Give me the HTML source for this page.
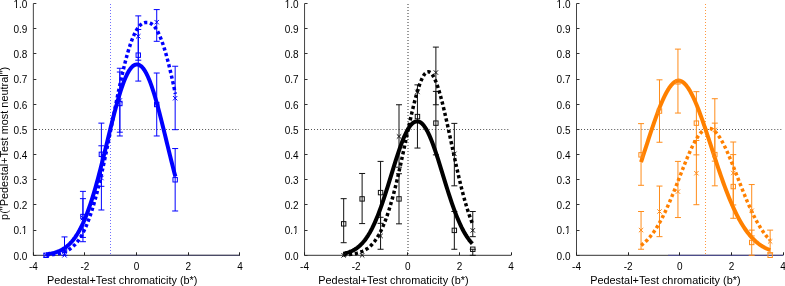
<!DOCTYPE html>
<html><head><meta charset="utf-8"><style>
html,body{margin:0;padding:0;background:#fff;}
body{width:785px;height:286px;position:relative;overflow:hidden;}
</style></head><body>
<svg width="785" height="286" viewBox="0 0 785 286" style="position:absolute;left:0;top:0;font-family:'Liberation Sans', Arial, Helvetica, sans-serif">
<g><line x1="110.50" y1="4" x2="110.50" y2="255.30" stroke="#7070ff" stroke-width="1" stroke-dasharray="1 2"/>
<line x1="36" y1="129.5" x2="238.91" y2="129.5" stroke="#505050" stroke-width="1" stroke-dasharray="1 2.02"/>
<path d="M33.35,3.55 V255.3" fill="none" stroke="#444" stroke-width="1"/>
<path d="M33.35,255.3 H239.91" fill="none" stroke="#333" stroke-width="1"/>
<path d="M90.00,255.3 H239.91" fill="none" stroke="#46466a" stroke-width="1"/>
<line x1="33.35" y1="255.50" x2="36.35" y2="255.50" stroke="#333" stroke-width="1"/>
<text x="27.35" y="259.60" font-size="10" text-anchor="end" fill="#000">0.0</text>
<line x1="33.35" y1="230.50" x2="36.35" y2="230.50" stroke="#333" stroke-width="1"/>
<text x="27.35" y="234.43" font-size="10" text-anchor="end" fill="#000">0.1</text>
<line x1="33.35" y1="204.50" x2="36.35" y2="204.50" stroke="#333" stroke-width="1"/>
<text x="27.35" y="209.25" font-size="10" text-anchor="end" fill="#000">0.2</text>
<line x1="33.35" y1="179.50" x2="36.35" y2="179.50" stroke="#333" stroke-width="1"/>
<text x="27.35" y="184.08" font-size="10" text-anchor="end" fill="#000">0.3</text>
<line x1="33.35" y1="154.50" x2="36.35" y2="154.50" stroke="#333" stroke-width="1"/>
<text x="27.35" y="158.90" font-size="10" text-anchor="end" fill="#000">0.4</text>
<line x1="33.35" y1="129.50" x2="36.35" y2="129.50" stroke="#333" stroke-width="1"/>
<text x="27.35" y="133.73" font-size="10" text-anchor="end" fill="#000">0.5</text>
<line x1="33.35" y1="104.50" x2="36.35" y2="104.50" stroke="#333" stroke-width="1"/>
<text x="27.35" y="108.55" font-size="10" text-anchor="end" fill="#000">0.6</text>
<line x1="33.35" y1="79.50" x2="36.35" y2="79.50" stroke="#333" stroke-width="1"/>
<text x="27.35" y="83.38" font-size="10" text-anchor="end" fill="#000">0.7</text>
<line x1="33.35" y1="53.50" x2="36.35" y2="53.50" stroke="#333" stroke-width="1"/>
<text x="27.35" y="58.20" font-size="10" text-anchor="end" fill="#000">0.8</text>
<line x1="33.35" y1="28.50" x2="36.35" y2="28.50" stroke="#333" stroke-width="1"/>
<text x="27.35" y="33.02" font-size="10" text-anchor="end" fill="#000">0.9</text>
<line x1="33.35" y1="3.50" x2="36.35" y2="3.50" stroke="#333" stroke-width="1"/>
<text x="27.35" y="7.85" font-size="10" text-anchor="end" fill="#000">1.0</text>
<line x1="33.50" y1="255.3" x2="33.50" y2="252.3" stroke="#222" stroke-width="1"/>
<text x="33.35" y="269.50" font-size="10" text-anchor="middle" fill="#000">-4</text>
<line x1="84.50" y1="255.3" x2="84.50" y2="252.3" stroke="#222" stroke-width="1"/>
<text x="84.99" y="269.50" font-size="10" text-anchor="middle" fill="#000">-2</text>
<line x1="136.50" y1="255.3" x2="136.50" y2="252.3" stroke="#222" stroke-width="1"/>
<text x="136.63" y="269.50" font-size="10" text-anchor="middle" fill="#000">0</text>
<line x1="188.50" y1="255.3" x2="188.50" y2="252.3" stroke="#222" stroke-width="1"/>
<text x="188.27" y="269.50" font-size="10" text-anchor="middle" fill="#000">2</text>
<line x1="239.50" y1="255.3" x2="239.50" y2="252.3" stroke="#222" stroke-width="1"/>
<text x="239.91" y="269.50" font-size="10" text-anchor="middle" fill="#000">4</text>
<text x="47.05" y="283.9" font-size="10.9" fill="#000">Pedestal+Test chromaticity (b*)</text>
<text transform="translate(7.8,219.9) rotate(-90)" x="0" y="0" font-size="10.93" fill="#000">p("Pedestal+Test most neutral")</text>
<path d="M64.50,236.92 V255.30 M61.50,236.92 H67.50 M61.50,255.30 H67.50" stroke="#0000ff" stroke-width="1" fill="none"/>
<path d="M82.95,191.36 V241.71 M79.95,191.36 H85.95 M79.95,241.71 H85.95" stroke="#0000ff" stroke-width="1" fill="none"/>
<path d="M82.95,198.66 V237.43 M79.95,198.66 H85.95 M79.95,237.43 H85.95" stroke="#0000ff" stroke-width="1" fill="none"/>
<path d="M101.39,123.13 V186.32 M98.39,123.13 H104.39 M98.39,186.32 H104.39" stroke="#0000ff" stroke-width="1" fill="none"/>
<path d="M101.39,145.79 V209.99 M98.39,145.79 H104.39 M98.39,209.99 H104.39" stroke="#0000ff" stroke-width="1" fill="none"/>
<path d="M119.83,72.03 V135.97 M116.83,72.03 H122.83 M116.83,135.97 H122.83" stroke="#0000ff" stroke-width="1" fill="none"/>
<path d="M119.83,68.25 V132.19 M116.83,68.25 H122.83 M116.83,132.19 H122.83" stroke="#0000ff" stroke-width="1" fill="none"/>
<path d="M138.27,29.48 V81.09 M135.27,29.48 H141.27 M135.27,81.09 H141.27" stroke="#0000ff" stroke-width="1" fill="none"/>
<path d="M138.27,15.89 V60.19 M135.27,15.89 H141.27 M135.27,60.19 H141.27" stroke="#0000ff" stroke-width="1" fill="none"/>
<path d="M156.72,73.03 V135.97 M153.72,73.03 H159.72 M153.72,135.97 H159.72" stroke="#0000ff" stroke-width="1" fill="none"/>
<path d="M156.72,9.59 V41.31 M153.72,9.59 H159.72 M153.72,41.31 H159.72" stroke="#0000ff" stroke-width="1" fill="none"/>
<path d="M175.16,148.56 V210.99 M172.16,148.56 H178.16 M172.16,210.99 H178.16" stroke="#0000ff" stroke-width="1" fill="none"/>
<path d="M175.16,66.24 V129.68 M172.16,66.24 H178.16 M172.16,129.68 H178.16" stroke="#0000ff" stroke-width="1" fill="none"/>
<path d="M46.26,254.27 L47.34,254.13 L48.41,253.98 L49.49,253.80 L50.56,253.61 L51.64,253.39 L52.72,253.14 L53.79,252.88 L54.87,252.58 L55.94,252.25 L57.02,251.88 L58.09,251.48 L59.17,251.04 L60.25,250.55 L61.32,250.02 L62.40,249.43 L63.47,248.79 L64.55,248.10 L65.62,247.34 L66.70,246.52 L67.78,245.62 L68.85,244.66 L69.93,243.61 L71.00,242.48 L72.08,241.27 L73.16,239.97 L74.23,238.57 L75.31,237.07 L76.38,235.47 L77.46,233.77 L78.53,231.95 L79.61,230.03 L80.69,227.98 L81.76,225.82 L82.84,223.54 L83.91,221.13 L84.99,218.60 L86.07,215.94 L87.14,213.16 L88.22,210.25 L89.29,207.21 L90.37,204.05 L91.44,200.76 L92.52,197.36 L93.60,193.84 L94.67,190.20 L95.75,186.46 L96.82,182.61 L97.90,178.67 L98.98,174.64 L100.05,170.52 L101.13,166.33 L102.20,162.08 L103.28,157.77 L104.35,153.41 L105.43,149.03 L106.51,144.62 L107.58,140.20 L108.66,135.79 L109.73,131.40 L110.81,127.03 L111.89,122.71 L112.96,118.45 L114.04,114.26 L115.11,110.16 L116.19,106.15 L117.27,102.26 L118.34,98.51 L119.42,94.89 L120.49,91.42 L121.57,88.13 L122.64,85.01 L123.72,82.08 L124.80,79.36 L125.87,76.84 L126.95,74.54 L128.02,72.47 L129.10,70.63 L130.18,69.02 L131.25,67.66 L132.33,66.54 L133.40,65.67 L134.48,65.04 L135.55,64.64 L136.63,64.48 L137.71,64.53 L138.78,64.79 L139.86,65.29 L140.93,66.03 L142.01,67.02 L143.09,68.25 L144.16,69.72 L145.24,71.43 L146.31,73.38 L147.39,75.55 L148.46,77.95 L149.54,80.57 L150.62,83.39 L151.69,86.40 L152.77,89.60 L153.84,92.97 L154.92,96.51 L156.00,100.19 L157.07,104.01 L158.15,107.95 L159.22,112.00 L160.30,116.15 L161.37,120.37 L162.45,124.66 L163.53,129.00 L164.60,133.38 L165.68,137.79 L166.75,142.20 L167.83,146.62 L168.91,151.02 L169.98,155.39 L171.06,159.72 L172.13,164.01 L173.21,168.24 L174.28,172.39 L175.36,176.47" fill="none" stroke="#0000ff" stroke-width="4" stroke-linecap="butt" stroke-linejoin="round"/>
<path d="M46.26,255.02 L47.34,254.97 L48.41,254.92 L49.49,254.85 L50.56,254.77 L51.64,254.68 L52.72,254.58 L53.79,254.46 L54.87,254.32 L55.94,254.17 L57.02,253.99 L58.09,253.79 L59.17,253.56 L60.25,253.30 L61.32,253.00 L62.40,252.67 L63.47,252.30 L64.55,251.89 L65.62,251.42 L66.70,250.91 L67.78,250.33 L68.85,249.69 L69.93,248.98 L71.00,248.20 L72.08,247.34 L73.16,246.40 L74.23,245.37 L75.31,244.23 L76.38,243.00 L77.46,241.66 L78.53,240.20 L79.61,238.62 L80.69,236.92 L81.76,235.08 L82.84,233.10 L83.91,230.99 L84.99,228.72 L86.07,226.31 L87.14,223.73 L88.22,221.00 L89.29,218.11 L90.37,215.05 L91.44,211.83 L92.52,208.44 L93.60,204.89 L94.67,201.17 L95.75,197.29 L96.82,193.25 L97.90,189.06 L98.98,184.71 L100.05,180.22 L101.13,175.60 L102.20,170.84 L103.28,165.96 L104.35,160.98 L105.43,155.89 L106.51,150.72 L107.58,145.47 L108.66,140.16 L109.73,134.80 L110.81,129.42 L111.89,124.01 L112.96,118.61 L114.04,113.22 L115.11,107.86 L116.19,102.54 L117.27,97.30 L118.34,92.13 L119.42,87.06 L120.49,82.11 L121.57,77.28 L122.64,72.60 L123.72,68.07 L124.80,63.71 L125.87,59.54 L126.95,55.56 L128.02,51.79 L129.10,48.23 L130.18,44.89 L131.25,41.79 L132.33,38.91 L133.40,36.28 L134.48,33.89 L135.55,31.74 L136.63,29.83 L137.71,28.16 L138.78,26.72 L139.86,25.52 L140.93,24.54 L142.01,23.77 L143.09,23.21 L144.16,22.83 L145.24,22.61 L146.31,22.54 L147.39,22.55 L148.46,22.67 L149.54,22.93 L150.62,23.37 L151.69,24.00 L152.77,24.84 L153.84,25.89 L154.92,27.17 L156.00,28.68 L157.07,30.43 L158.15,32.41 L159.22,34.64 L160.30,37.12 L161.37,39.83 L162.45,42.78 L163.53,45.96 L164.60,49.37 L165.68,53.00 L166.75,56.85 L167.83,60.89 L168.91,65.12 L169.98,69.54 L171.06,74.12 L172.13,78.85 L173.21,83.72 L174.28,88.72 L175.36,93.82" fill="none" stroke="#0000ff" stroke-width="3.5" stroke-dasharray="3.2 2.6"/>
<rect x="43.86" y="253.10" width="4.4" height="4.4" fill="none" stroke="#0000ff" stroke-width="1"/>
<path d="M43.86,253.10 L48.26,257.50 M43.86,257.50 L48.26,253.10" stroke="#0000ff" stroke-width="1" fill="none"/>
<rect x="62.30" y="248.07" width="4.4" height="4.4" fill="none" stroke="#0000ff" stroke-width="1"/>
<path d="M62.30,253.10 L66.70,257.50 M62.30,257.50 L66.70,253.10" stroke="#0000ff" stroke-width="1" fill="none"/>
<rect x="80.75" y="214.33" width="4.4" height="4.4" fill="none" stroke="#0000ff" stroke-width="1"/>
<path d="M80.75,215.84 L85.15,220.24 M80.75,220.24 L85.15,215.84" stroke="#0000ff" stroke-width="1" fill="none"/>
<rect x="99.19" y="152.15" width="4.4" height="4.4" fill="none" stroke="#0000ff" stroke-width="1"/>
<path d="M99.19,175.81 L103.59,180.21 M99.19,180.21 L103.59,175.81" stroke="#0000ff" stroke-width="1" fill="none"/>
<rect x="117.63" y="101.29" width="4.4" height="4.4" fill="none" stroke="#0000ff" stroke-width="1"/>
<path d="M117.63,98.27 L122.03,102.67 M117.63,102.67 L122.03,98.27" stroke="#0000ff" stroke-width="1" fill="none"/>
<rect x="136.07" y="52.96" width="4.4" height="4.4" fill="none" stroke="#0000ff" stroke-width="1"/>
<path d="M136.07,34.08 L140.47,38.48 M136.07,38.48 L140.47,34.08" stroke="#0000ff" stroke-width="1" fill="none"/>
<rect x="154.52" y="102.30" width="4.4" height="4.4" fill="none" stroke="#0000ff" stroke-width="1"/>
<path d="M154.52,19.98 L158.92,24.38 M154.52,24.38 L158.92,19.98" stroke="#0000ff" stroke-width="1" fill="none"/>
<rect x="172.96" y="177.58" width="4.4" height="4.4" fill="none" stroke="#0000ff" stroke-width="1"/>
<path d="M172.96,96.01 L177.36,100.41 M172.96,100.41 L177.36,96.01" stroke="#0000ff" stroke-width="1" fill="none"/>
<rect x="22" y="233" width="2" height="1" fill="#fff"/>
<rect x="25" y="233" width="2" height="1" fill="#fff"/>
<rect x="14" y="7" width="2" height="1" fill="#fff"/>
<rect x="17" y="7" width="2" height="1" fill="#fff"/></g>
<g><line x1="408.00" y1="4" x2="408.00" y2="255.30" stroke="#333333" stroke-width="1" stroke-dasharray="1 2"/>
<line x1="308" y1="129.5" x2="510.11" y2="129.5" stroke="#505050" stroke-width="1" stroke-dasharray="1 2.02"/>
<path d="M304.55,3.55 V255.3" fill="none" stroke="#444" stroke-width="1"/>
<path d="M304.55,255.3 H511.11" fill="none" stroke="#333" stroke-width="1"/>
<line x1="304.55" y1="255.50" x2="307.55" y2="255.50" stroke="#333" stroke-width="1"/>
<text x="298.55" y="259.60" font-size="10" text-anchor="end" fill="#000">0.0</text>
<line x1="304.55" y1="230.50" x2="307.55" y2="230.50" stroke="#333" stroke-width="1"/>
<text x="298.55" y="234.43" font-size="10" text-anchor="end" fill="#000">0.1</text>
<line x1="304.55" y1="204.50" x2="307.55" y2="204.50" stroke="#333" stroke-width="1"/>
<text x="298.55" y="209.25" font-size="10" text-anchor="end" fill="#000">0.2</text>
<line x1="304.55" y1="179.50" x2="307.55" y2="179.50" stroke="#333" stroke-width="1"/>
<text x="298.55" y="184.08" font-size="10" text-anchor="end" fill="#000">0.3</text>
<line x1="304.55" y1="154.50" x2="307.55" y2="154.50" stroke="#333" stroke-width="1"/>
<text x="298.55" y="158.90" font-size="10" text-anchor="end" fill="#000">0.4</text>
<line x1="304.55" y1="129.50" x2="307.55" y2="129.50" stroke="#333" stroke-width="1"/>
<text x="298.55" y="133.73" font-size="10" text-anchor="end" fill="#000">0.5</text>
<line x1="304.55" y1="104.50" x2="307.55" y2="104.50" stroke="#333" stroke-width="1"/>
<text x="298.55" y="108.55" font-size="10" text-anchor="end" fill="#000">0.6</text>
<line x1="304.55" y1="79.50" x2="307.55" y2="79.50" stroke="#333" stroke-width="1"/>
<text x="298.55" y="83.38" font-size="10" text-anchor="end" fill="#000">0.7</text>
<line x1="304.55" y1="53.50" x2="307.55" y2="53.50" stroke="#333" stroke-width="1"/>
<text x="298.55" y="58.20" font-size="10" text-anchor="end" fill="#000">0.8</text>
<line x1="304.55" y1="28.50" x2="307.55" y2="28.50" stroke="#333" stroke-width="1"/>
<text x="298.55" y="33.02" font-size="10" text-anchor="end" fill="#000">0.9</text>
<line x1="304.55" y1="3.50" x2="307.55" y2="3.50" stroke="#333" stroke-width="1"/>
<text x="298.55" y="7.85" font-size="10" text-anchor="end" fill="#000">1.0</text>
<line x1="304.50" y1="255.3" x2="304.50" y2="252.3" stroke="#222" stroke-width="1"/>
<text x="304.55" y="269.50" font-size="10" text-anchor="middle" fill="#000">-4</text>
<line x1="356.50" y1="255.3" x2="356.50" y2="252.3" stroke="#222" stroke-width="1"/>
<text x="356.19" y="269.50" font-size="10" text-anchor="middle" fill="#000">-2</text>
<line x1="407.50" y1="255.3" x2="407.50" y2="252.3" stroke="#222" stroke-width="1"/>
<text x="407.83" y="269.50" font-size="10" text-anchor="middle" fill="#000">0</text>
<line x1="459.50" y1="255.3" x2="459.50" y2="252.3" stroke="#222" stroke-width="1"/>
<text x="459.47" y="269.50" font-size="10" text-anchor="middle" fill="#000">2</text>
<line x1="511.50" y1="255.3" x2="511.50" y2="252.3" stroke="#222" stroke-width="1"/>
<text x="511.11" y="269.50" font-size="10" text-anchor="middle" fill="#000">4</text>
<text x="318.25" y="283.9" font-size="10.9" fill="#000">Pedestal+Test chromaticity (b*)</text>
<path d="M343.68,198.66 V242.71 M340.68,198.66 H346.68 M340.68,242.71 H346.68" stroke="#111111" stroke-width="1" fill="none"/>
<path d="M362.12,173.48 V223.58 M359.12,173.48 H365.12 M359.12,223.58 H365.12" stroke="#111111" stroke-width="1" fill="none"/>
<path d="M380.57,161.40 V223.33 M377.57,161.40 H383.57 M377.57,223.33 H383.57" stroke="#111111" stroke-width="1" fill="none"/>
<path d="M380.57,217.29 V249.26 M377.57,217.29 H383.57 M377.57,249.26 H383.57" stroke="#111111" stroke-width="1" fill="none"/>
<path d="M399.01,173.73 V223.83 M396.01,173.73 H402.01 M396.01,223.83 H402.01" stroke="#111111" stroke-width="1" fill="none"/>
<path d="M399.01,104.75 V167.19 M396.01,104.75 H402.01 M396.01,167.19 H402.01" stroke="#111111" stroke-width="1" fill="none"/>
<path d="M417.45,84.87 V148.05 M414.45,84.87 H420.45 M414.45,148.05 H420.45" stroke="#111111" stroke-width="1" fill="none"/>
<path d="M435.89,91.41 V154.85 M432.89,91.41 H438.89 M432.89,154.85 H438.89" stroke="#111111" stroke-width="1" fill="none"/>
<path d="M435.89,47.10 V104.75 M432.89,47.10 H438.89 M432.89,104.75 H438.89" stroke="#111111" stroke-width="1" fill="none"/>
<path d="M454.34,211.50 V249.26 M451.34,211.50 H457.34 M451.34,249.26 H457.34" stroke="#111111" stroke-width="1" fill="none"/>
<path d="M454.34,123.38 V185.82 M451.34,123.38 H457.34 M451.34,185.82 H457.34" stroke="#111111" stroke-width="1" fill="none"/>
<path d="M472.78,249.26 V255.30 M469.78,249.26 H475.78 M469.78,255.30 H475.78" stroke="#111111" stroke-width="1" fill="none"/>
<path d="M472.78,211.50 V236.67 M469.78,211.50 H475.78 M469.78,236.67 H475.78" stroke="#111111" stroke-width="1" fill="none"/>
<path d="M343.28,253.71 L344.36,253.49 L345.43,253.24 L346.51,252.95 L347.58,252.64 L348.66,252.29 L349.74,251.90 L350.81,251.47 L351.89,250.99 L352.96,250.46 L354.04,249.88 L355.11,249.24 L356.19,248.53 L357.27,247.77 L358.34,246.93 L359.42,246.02 L360.49,245.02 L361.57,243.95 L362.64,242.79 L363.72,241.54 L364.80,240.19 L365.87,238.74 L366.95,237.20 L368.02,235.55 L369.10,233.79 L370.18,231.91 L371.25,229.93 L372.33,227.84 L373.40,225.63 L374.48,223.31 L375.56,220.87 L376.63,218.32 L377.71,215.66 L378.78,212.90 L379.86,210.03 L380.93,207.06 L382.01,204.00 L383.09,200.85 L384.16,197.62 L385.24,194.32 L386.31,190.95 L387.39,187.54 L388.47,184.07 L389.54,180.58 L390.62,177.07 L391.69,173.55 L392.77,170.04 L393.84,166.55 L394.92,163.09 L396.00,159.68 L397.07,156.33 L398.15,153.06 L399.22,149.88 L400.30,146.81 L401.38,143.86 L402.45,141.04 L403.53,138.37 L404.60,135.86 L405.68,133.53 L406.75,131.37 L407.83,129.41 L408.91,127.65 L409.98,126.09 L411.06,124.76 L412.13,123.64 L413.21,122.75 L414.29,122.08 L415.36,121.63 L416.44,121.40 L417.51,121.38 L418.59,121.57 L419.66,121.96 L420.74,122.59 L421.82,123.43 L422.89,124.51 L423.97,125.80 L425.04,127.31 L426.12,129.02 L427.19,130.95 L428.27,133.06 L429.35,135.36 L430.42,137.84 L431.50,140.47 L432.57,143.26 L433.65,146.19 L434.73,149.23 L435.80,152.39 L436.88,155.64 L437.95,158.98 L439.03,162.37 L440.11,165.82 L441.18,169.31 L442.26,172.82 L443.33,176.34 L444.41,179.85 L445.48,183.35 L446.56,186.82 L447.64,190.25 L448.71,193.62 L449.79,196.94 L450.86,200.18 L451.94,203.35 L453.01,206.43 L454.09,209.42 L455.17,212.31 L456.24,215.10 L457.32,217.78 L458.39,220.35 L459.47,222.81 L460.55,225.16 L461.62,227.39 L462.70,229.51 L463.77,231.51 L464.85,233.41 L465.93,235.19 L467.00,236.86 L468.08,238.43 L469.15,239.90 L470.23,241.27 L471.30,242.54 L472.38,243.72" fill="none" stroke="#000000" stroke-width="4" stroke-linecap="butt" stroke-linejoin="round"/>
<path d="M343.28,254.98 L344.36,254.92 L345.43,254.86 L346.51,254.79 L347.58,254.70 L348.66,254.61 L349.74,254.50 L350.81,254.37 L351.89,254.23 L352.96,254.07 L354.04,253.88 L355.11,253.68 L356.19,253.44 L357.27,253.18 L358.34,252.88 L359.42,252.54 L360.49,252.17 L361.57,251.75 L362.64,251.28 L363.72,250.76 L364.80,250.18 L365.87,249.54 L366.95,248.83 L368.02,248.05 L369.10,247.19 L370.18,246.25 L371.25,245.21 L372.33,244.08 L373.40,242.84 L374.48,241.50 L375.56,240.04 L376.63,238.46 L377.71,236.76 L378.78,234.92 L379.86,232.94 L380.93,230.82 L382.01,228.55 L383.09,226.12 L384.16,223.54 L385.24,220.79 L386.31,217.89 L387.39,214.82 L388.47,211.58 L389.54,208.17 L390.62,204.60 L391.69,200.87 L392.77,196.98 L393.84,192.93 L394.92,188.74 L396.00,184.40 L397.07,179.93 L398.15,175.34 L399.22,170.64 L400.30,165.84 L401.38,160.95 L402.45,156.00 L403.53,151.00 L404.60,145.96 L405.68,140.92 L406.75,135.88 L407.83,130.87 L408.91,125.91 L409.98,121.02 L411.06,116.24 L412.13,111.58 L413.21,107.06 L414.29,102.72 L415.36,98.57 L416.44,94.64 L417.51,90.95 L418.59,87.52 L419.66,84.38 L420.74,81.55 L421.82,79.04 L422.89,76.87 L423.97,75.06 L425.04,73.63 L426.12,72.58 L427.19,71.93 L428.27,71.70 L429.35,71.91 L430.42,72.54 L431.50,73.58 L432.57,75.00 L433.65,76.79 L434.73,78.95 L435.80,81.44 L436.88,84.26 L437.95,87.39 L439.03,90.81 L440.11,94.49 L441.18,98.41 L442.26,102.55 L443.33,106.89 L444.41,111.39 L445.48,116.05 L446.56,120.83 L447.64,125.71 L448.71,130.67 L449.79,135.67 L450.86,140.71 L451.94,145.76 L453.01,150.80 L454.09,155.80 L455.17,160.75 L456.24,165.64 L457.32,170.45 L458.39,175.15 L459.47,179.75 L460.55,184.22 L461.62,188.57 L462.70,192.77 L463.77,196.82 L464.85,200.72 L465.93,204.46 L467.00,208.03 L468.08,211.44 L469.15,214.69 L470.23,217.77 L471.30,220.68 L472.38,223.43" fill="none" stroke="#000000" stroke-width="3.5" stroke-dasharray="3.2 2.6"/>
<rect x="341.48" y="221.63" width="4.4" height="4.4" fill="none" stroke="#111111" stroke-width="1"/>
<path d="M341.48,253.10 L345.88,257.50 M341.48,257.50 L345.88,253.10" stroke="#111111" stroke-width="1" fill="none"/>
<rect x="359.92" y="196.71" width="4.4" height="4.4" fill="none" stroke="#111111" stroke-width="1"/>
<path d="M359.92,253.10 L364.32,257.50 M359.92,257.50 L364.32,253.10" stroke="#111111" stroke-width="1" fill="none"/>
<rect x="378.37" y="190.41" width="4.4" height="4.4" fill="none" stroke="#111111" stroke-width="1"/>
<path d="M378.37,233.72 L382.77,238.12 M378.37,238.12 L382.77,233.72" stroke="#111111" stroke-width="1" fill="none"/>
<rect x="396.81" y="196.71" width="4.4" height="4.4" fill="none" stroke="#111111" stroke-width="1"/>
<path d="M396.81,134.27 L401.21,138.67 M396.81,138.67 L401.21,134.27" stroke="#111111" stroke-width="1" fill="none"/>
<rect x="415.25" y="114.39" width="4.4" height="4.4" fill="none" stroke="#111111" stroke-width="1"/>
<path d="M415.25,89.71 L419.65,94.11 M415.25,94.11 L419.65,89.71" stroke="#111111" stroke-width="1" fill="none"/>
<rect x="433.69" y="120.93" width="4.4" height="4.4" fill="none" stroke="#111111" stroke-width="1"/>
<path d="M433.69,70.33 L438.09,74.73 M433.69,74.73 L438.09,70.33" stroke="#111111" stroke-width="1" fill="none"/>
<rect x="452.14" y="228.18" width="4.4" height="4.4" fill="none" stroke="#111111" stroke-width="1"/>
<path d="M452.14,151.64 L456.54,156.04 M452.14,156.04 L456.54,151.64" stroke="#111111" stroke-width="1" fill="none"/>
<rect x="470.58" y="247.06" width="4.4" height="4.4" fill="none" stroke="#111111" stroke-width="1"/>
<path d="M470.58,228.18 L474.98,232.58 M470.58,232.58 L474.98,228.18" stroke="#111111" stroke-width="1" fill="none"/>
<rect x="293" y="233" width="2" height="1" fill="#fff"/>
<rect x="296" y="233" width="2" height="1" fill="#fff"/>
<rect x="285" y="7" width="2" height="1" fill="#fff"/>
<rect x="288" y="7" width="2" height="1" fill="#fff"/></g>
<g><line x1="705.50" y1="4" x2="705.50" y2="255.30" stroke="#ff9940" stroke-width="1" stroke-dasharray="1 2"/>
<line x1="578" y1="129.5" x2="782.06" y2="129.5" stroke="#505050" stroke-width="1" stroke-dasharray="1 2.02"/>
<path d="M576.50,3.55 V255.3" fill="none" stroke="#444" stroke-width="1"/>
<path d="M576.50,255.3 H783.06" fill="none" stroke="#333" stroke-width="1"/>
<path d="M668.00,255.3 H783.06" fill="none" stroke="#4a4a96" stroke-width="1"/>
<line x1="576.50" y1="255.50" x2="579.50" y2="255.50" stroke="#333" stroke-width="1"/>
<text x="570.50" y="259.60" font-size="10" text-anchor="end" fill="#000">0.0</text>
<line x1="576.50" y1="230.50" x2="579.50" y2="230.50" stroke="#333" stroke-width="1"/>
<text x="570.50" y="234.43" font-size="10" text-anchor="end" fill="#000">0.1</text>
<line x1="576.50" y1="204.50" x2="579.50" y2="204.50" stroke="#333" stroke-width="1"/>
<text x="570.50" y="209.25" font-size="10" text-anchor="end" fill="#000">0.2</text>
<line x1="576.50" y1="179.50" x2="579.50" y2="179.50" stroke="#333" stroke-width="1"/>
<text x="570.50" y="184.08" font-size="10" text-anchor="end" fill="#000">0.3</text>
<line x1="576.50" y1="154.50" x2="579.50" y2="154.50" stroke="#333" stroke-width="1"/>
<text x="570.50" y="158.90" font-size="10" text-anchor="end" fill="#000">0.4</text>
<line x1="576.50" y1="129.50" x2="579.50" y2="129.50" stroke="#333" stroke-width="1"/>
<text x="570.50" y="133.73" font-size="10" text-anchor="end" fill="#000">0.5</text>
<line x1="576.50" y1="104.50" x2="579.50" y2="104.50" stroke="#333" stroke-width="1"/>
<text x="570.50" y="108.55" font-size="10" text-anchor="end" fill="#000">0.6</text>
<line x1="576.50" y1="79.50" x2="579.50" y2="79.50" stroke="#333" stroke-width="1"/>
<text x="570.50" y="83.38" font-size="10" text-anchor="end" fill="#000">0.7</text>
<line x1="576.50" y1="53.50" x2="579.50" y2="53.50" stroke="#333" stroke-width="1"/>
<text x="570.50" y="58.20" font-size="10" text-anchor="end" fill="#000">0.8</text>
<line x1="576.50" y1="28.50" x2="579.50" y2="28.50" stroke="#333" stroke-width="1"/>
<text x="570.50" y="33.02" font-size="10" text-anchor="end" fill="#000">0.9</text>
<line x1="576.50" y1="3.50" x2="579.50" y2="3.50" stroke="#333" stroke-width="1"/>
<text x="570.50" y="7.85" font-size="10" text-anchor="end" fill="#000">1.0</text>
<line x1="576.50" y1="255.3" x2="576.50" y2="252.3" stroke="#222" stroke-width="1"/>
<text x="576.50" y="269.50" font-size="10" text-anchor="middle" fill="#000">-4</text>
<line x1="628.50" y1="255.3" x2="628.50" y2="252.3" stroke="#222" stroke-width="1"/>
<text x="628.14" y="269.50" font-size="10" text-anchor="middle" fill="#000">-2</text>
<line x1="679.50" y1="255.3" x2="679.50" y2="252.3" stroke="#222" stroke-width="1"/>
<text x="679.78" y="269.50" font-size="10" text-anchor="middle" fill="#000">0</text>
<line x1="731.50" y1="255.3" x2="731.50" y2="252.3" stroke="#222" stroke-width="1"/>
<text x="731.42" y="269.50" font-size="10" text-anchor="middle" fill="#000">2</text>
<line x1="783.50" y1="255.3" x2="783.50" y2="252.3" stroke="#222" stroke-width="1"/>
<text x="783.06" y="269.50" font-size="10" text-anchor="middle" fill="#000">4</text>
<text x="590.20" y="283.9" font-size="10.9" fill="#000">Pedestal+Test chromaticity (b*)</text>
<path d="M641.05,123.63 V185.31 M638.05,123.63 H644.05 M638.05,185.31 H644.05" stroke="#ff8c1a" stroke-width="1" fill="none"/>
<path d="M641.05,211.50 V249.26 M638.05,211.50 H644.05 M638.05,249.26 H644.05" stroke="#ff8c1a" stroke-width="1" fill="none"/>
<path d="M659.49,79.83 V142.26 M656.49,79.83 H662.49 M656.49,142.26 H662.49" stroke="#ff8c1a" stroke-width="1" fill="none"/>
<path d="M659.49,186.07 V236.67 M656.49,186.07 H662.49 M656.49,236.67 H662.49" stroke="#ff8c1a" stroke-width="1" fill="none"/>
<path d="M677.94,49.12 V113.06 M674.94,49.12 H680.94 M674.94,113.06 H680.94" stroke="#ff8c1a" stroke-width="1" fill="none"/>
<path d="M677.94,161.40 V217.54 M674.94,161.40 H680.94 M674.94,217.54 H680.94" stroke="#ff8c1a" stroke-width="1" fill="none"/>
<path d="M696.38,91.66 V154.85 M693.38,91.66 H699.38 M693.38,154.85 H699.38" stroke="#ff8c1a" stroke-width="1" fill="none"/>
<path d="M696.38,140.50 V204.70 M693.38,140.50 H699.38 M693.38,204.70 H699.38" stroke="#ff8c1a" stroke-width="1" fill="none"/>
<path d="M714.82,123.13 V185.82 M711.82,123.13 H717.82 M711.82,185.82 H717.82" stroke="#ff8c1a" stroke-width="1" fill="none"/>
<path d="M714.82,98.71 V161.15 M711.82,98.71 H717.82 M711.82,161.15 H717.82" stroke="#ff8c1a" stroke-width="1" fill="none"/>
<path d="M733.26,154.60 V218.29 M730.26,154.60 H736.26 M730.26,218.29 H736.26" stroke="#ff8c1a" stroke-width="1" fill="none"/>
<path d="M733.26,142.01 V204.95 M730.26,142.01 H736.26 M730.26,204.95 H736.26" stroke="#ff8c1a" stroke-width="1" fill="none"/>
<path d="M751.71,230.12 V255.30 M748.71,230.12 H754.71 M748.71,255.30 H754.71" stroke="#ff8c1a" stroke-width="1" fill="none"/>
<path d="M751.71,184.56 V235.92 M748.71,184.56 H754.71 M748.71,235.92 H754.71" stroke="#ff8c1a" stroke-width="1" fill="none"/>
<path d="M770.15,230.12 V252.78 M767.15,230.12 H773.15 M767.15,252.78 H773.15" stroke="#ff8c1a" stroke-width="1" fill="none"/>
<path d="M641.05,162.03 L642.13,158.77 L643.20,155.48 L644.28,152.19 L645.35,148.88 L646.43,145.57 L647.50,142.27 L648.58,138.98 L649.66,135.70 L650.73,132.45 L651.81,129.23 L652.88,126.05 L653.96,122.92 L655.04,119.84 L656.11,116.83 L657.19,113.88 L658.26,111.01 L659.34,108.23 L660.41,105.54 L661.49,102.95 L662.57,100.46 L663.64,98.09 L664.72,95.84 L665.79,93.73 L666.87,91.74 L667.95,89.90 L669.02,88.21 L670.10,86.67 L671.17,85.29 L672.25,84.08 L673.33,83.03 L674.40,82.17 L675.48,81.48 L676.55,80.99 L677.63,80.68 L678.70,80.59 L679.78,80.71 L680.86,81.04 L681.93,81.56 L683.01,82.26 L684.08,83.15 L685.16,84.21 L686.24,85.44 L687.31,86.84 L688.39,88.40 L689.46,90.11 L690.54,91.97 L691.61,93.97 L692.69,96.10 L693.77,98.36 L694.84,100.75 L695.92,103.24 L696.99,105.85 L698.07,108.55 L699.14,111.34 L700.22,114.22 L701.30,117.18 L702.37,120.20 L703.45,123.28 L704.52,126.42 L705.60,129.61 L706.68,132.83 L707.75,136.08 L708.83,139.36 L709.90,142.65 L710.98,145.96 L712.06,149.27 L713.13,152.57 L714.21,155.87 L715.28,159.15 L716.36,162.41 L717.43,165.64 L718.51,168.84 L719.59,172.01 L720.66,175.13 L721.74,178.21 L722.81,181.24 L723.89,184.22 L724.97,187.14 L726.04,190.00 L727.12,192.79 L728.19,195.53 L729.27,198.19 L730.34,200.79 L731.42,203.32 L732.50,205.78 L733.57,208.16 L734.65,210.47 L735.72,212.70 L736.80,214.86 L737.88,216.95 L738.95,218.96 L740.03,220.90 L741.10,222.76 L742.18,224.56 L743.25,226.27 L744.33,227.92 L745.41,229.50 L746.48,231.01 L747.56,232.45 L748.63,233.82 L749.71,235.13 L750.78,236.38 L751.86,237.57 L752.94,238.69 L754.01,239.76 L755.09,240.78 L756.16,241.74 L757.24,242.64 L758.32,243.50 L759.39,244.31 L760.47,245.07 L761.54,245.79 L762.62,246.47 L763.69,247.10 L764.77,247.70 L765.85,248.26 L766.92,248.78 L768.00,249.27 L769.07,249.73 L770.15,250.16" fill="none" stroke="#ff8000" stroke-width="4" stroke-linecap="butt" stroke-linejoin="round"/>
<path d="M641.05,245.41 L642.13,244.60 L643.20,243.73 L644.28,242.80 L645.35,241.82 L646.43,240.78 L647.50,239.68 L648.58,238.51 L649.66,237.28 L650.73,235.99 L651.81,234.62 L652.88,233.19 L653.96,231.69 L655.04,230.12 L656.11,228.47 L657.19,226.76 L658.26,224.97 L659.34,223.10 L660.41,221.17 L661.49,219.17 L662.57,217.09 L663.64,214.95 L664.72,212.74 L665.79,210.46 L666.87,208.12 L667.95,205.73 L669.02,203.27 L670.10,200.76 L671.17,198.20 L672.25,195.60 L673.33,192.96 L674.40,190.28 L675.48,187.57 L676.55,184.84 L677.63,182.09 L678.70,179.32 L679.78,176.56 L680.86,173.79 L681.93,171.04 L683.01,168.30 L684.08,165.59 L685.16,162.91 L686.24,160.28 L687.31,157.69 L688.39,155.16 L689.46,152.70 L690.54,150.31 L691.61,148.00 L692.69,145.79 L693.77,143.67 L694.84,141.66 L695.92,139.77 L696.99,137.99 L698.07,136.35 L699.14,134.84 L700.22,133.47 L701.30,132.25 L702.37,131.18 L703.45,130.27 L704.52,129.53 L705.60,128.95 L706.68,128.55 L707.75,128.32 L708.83,128.27 L709.90,128.42 L710.98,128.75 L712.06,129.25 L713.13,129.92 L714.21,130.76 L715.28,131.76 L716.36,132.91 L717.43,134.21 L718.51,135.66 L719.59,137.25 L720.66,138.96 L721.74,140.81 L722.81,142.77 L723.89,144.84 L724.97,147.01 L726.04,149.27 L727.12,151.63 L728.19,154.06 L729.27,156.56 L730.34,159.12 L731.42,161.74 L732.50,164.40 L733.57,167.10 L734.65,169.82 L735.72,172.57 L736.80,175.33 L737.88,178.10 L738.95,180.86 L740.03,183.62 L741.10,186.36 L742.18,189.08 L743.25,191.77 L744.33,194.43 L745.41,197.06 L746.48,199.63 L747.56,202.17 L748.63,204.64 L749.71,207.07 L750.78,209.43 L751.86,211.74 L752.94,213.98 L754.01,216.15 L755.09,218.26 L756.16,220.29 L757.24,222.26 L758.32,224.15 L759.39,225.97 L760.47,227.72 L761.54,229.40 L762.62,231.00 L763.69,232.54 L764.77,234.00 L765.85,235.39 L766.92,236.72 L768.00,237.98 L769.07,239.17 L770.15,240.30" fill="none" stroke="#ff8000" stroke-width="3.5" stroke-dasharray="3.2 2.6"/>
<rect x="638.85" y="152.65" width="4.4" height="4.4" fill="none" stroke="#ff8c1a" stroke-width="1"/>
<path d="M638.85,227.93 L643.25,232.32 M638.85,232.32 L643.25,227.93" stroke="#ff8c1a" stroke-width="1" fill="none"/>
<rect x="657.29" y="108.85" width="4.4" height="4.4" fill="none" stroke="#ff8c1a" stroke-width="1"/>
<path d="M657.29,209.30 L661.69,213.70 M657.29,213.70 L661.69,209.30" stroke="#ff8c1a" stroke-width="1" fill="none"/>
<rect x="675.74" y="79.64" width="4.4" height="4.4" fill="none" stroke="#ff8c1a" stroke-width="1"/>
<path d="M675.74,189.41 L680.14,193.81 M675.74,193.81 L680.14,189.41" stroke="#ff8c1a" stroke-width="1" fill="none"/>
<rect x="694.18" y="120.93" width="4.4" height="4.4" fill="none" stroke="#ff8c1a" stroke-width="1"/>
<path d="M694.18,171.03 L698.58,175.43 M694.18,175.43 L698.58,171.03" stroke="#ff8c1a" stroke-width="1" fill="none"/>
<rect x="712.62" y="152.40" width="4.4" height="4.4" fill="none" stroke="#ff8c1a" stroke-width="1"/>
<path d="M712.62,127.73 L717.02,132.13 M712.62,132.13 L717.02,127.73" stroke="#ff8c1a" stroke-width="1" fill="none"/>
<rect x="731.06" y="184.37" width="4.4" height="4.4" fill="none" stroke="#ff8c1a" stroke-width="1"/>
<path d="M731.06,170.78 L735.46,175.18 M731.06,175.18 L735.46,170.78" stroke="#ff8c1a" stroke-width="1" fill="none"/>
<rect x="749.51" y="240.26" width="4.4" height="4.4" fill="none" stroke="#ff8c1a" stroke-width="1"/>
<path d="M749.51,208.54 L753.91,212.94 M749.51,212.94 L753.91,208.54" stroke="#ff8c1a" stroke-width="1" fill="none"/>
<rect x="767.95" y="253.10" width="4.4" height="4.4" fill="none" stroke="#ff8c1a" stroke-width="1"/>
<path d="M767.95,239.25 L772.35,243.65 M767.95,243.65 L772.35,239.25" stroke="#ff8c1a" stroke-width="1" fill="none"/>
<rect x="565" y="233" width="2" height="1" fill="#fff"/>
<rect x="568" y="233" width="2" height="1" fill="#fff"/>
<rect x="557" y="7" width="2" height="1" fill="#fff"/>
<rect x="560" y="7" width="2" height="1" fill="#fff"/></g>
</svg>
</body></html>
